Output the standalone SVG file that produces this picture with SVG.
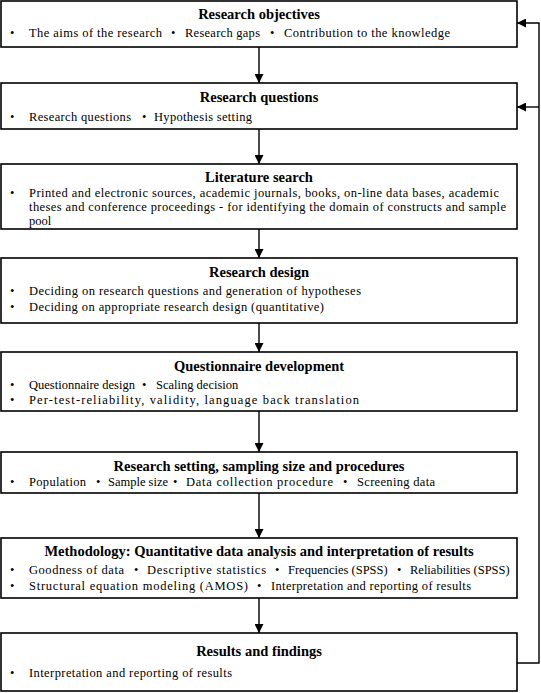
<svg xmlns="http://www.w3.org/2000/svg" width="541" height="693" viewBox="0 0 541 693" font-family="'Liberation Serif', 'DejaVu Serif', 'Noto Serif', Tinos, Times, serif">
<defs>
<marker id="ah" viewBox="0 0 10 10" refX="10" refY="5" markerWidth="9" markerHeight="9" markerUnits="userSpaceOnUse" orient="auto">
<path d="M0,0 L10,5 L0,10 Z" fill="#000"/>
</marker>
<style>
.box{fill:#fff;stroke:#000;stroke-width:1.6}
.t{font-weight:bold;font-size:14.5px;text-anchor:middle;fill:#000}
.b{font-size:12.5px;fill:#000}
.c{fill:none;stroke:#000;stroke-width:1.4}
</style>
</defs>
<rect width="541" height="693" fill="#fff"/>
<g id="connectors">
<line class="c" x1="259" y1="47" x2="259" y2="83" marker-end="url(#ah)"/>
<line class="c" x1="259" y1="129" x2="259" y2="164" marker-end="url(#ah)"/>
<line class="c" x1="259" y1="229" x2="259" y2="258" marker-end="url(#ah)"/>
<line class="c" x1="259" y1="323" x2="259" y2="352" marker-end="url(#ah)"/>
<line class="c" x1="259" y1="411" x2="259" y2="452" marker-end="url(#ah)"/>
<line class="c" x1="259" y1="493" x2="259" y2="538" marker-end="url(#ah)"/>
<line class="c" x1="259" y1="598" x2="259" y2="633" marker-end="url(#ah)"/>
<polyline class="c" points="517,663 539,663 539,23 517,23" marker-end="url(#ah)"/>
<line class="c" x1="539" y1="107" x2="517" y2="107" marker-end="url(#ah)"/>
</g>
<g id="n1">
<rect class="box" x="1" y="1" width="516" height="46"/>
<text class="t" x="259" y="19">Research objectives</text>
<text class="b" x="10" y="37">•</text>
<text class="b" x="29" y="37" textLength="133">The aims of the research</text>
<text class="b" x="171" y="37">•</text>
<text class="b" x="185" y="37" textLength="75">Research gaps</text>
<text class="b" x="270" y="37">•</text>
<text class="b" x="284" y="37" textLength="166">Contribution to the knowledge</text>
</g>
<g id="n2">
<rect class="box" x="1" y="83" width="516" height="46"/>
<text class="t" x="259" y="102">Research questions</text>
<text class="b" x="10" y="121">•</text>
<text class="b" x="29" y="121" textLength="102">Research questions</text>
<text class="b" x="142" y="121">•</text>
<text class="b" x="154" y="121" textLength="98">Hypothesis setting</text>
</g>
<g id="n3">
<rect class="box" x="1" y="164" width="516" height="65"/>
<text class="t" x="259" y="182">Literature search</text>
<text class="b" x="10" y="197">•</text>
<text class="b" x="29" y="197" textLength="470">Printed and electronic sources, academic journals, books, on-line data bases, academic</text>
<text class="b" x="29" y="211" textLength="477">theses and conference proceedings - for identifying the domain of constructs and sample</text>
<text class="b" x="29" y="225">pool</text>
</g>
<g id="n4">
<rect class="box" x="1" y="258" width="516" height="65"/>
<text class="t" x="259" y="277">Research design</text>
<text class="b" x="10" y="295">•</text>
<text class="b" x="29" y="295" textLength="332">Deciding on research questions and generation of hypotheses</text>
<text class="b" x="10" y="311">•</text>
<text class="b" x="29" y="311" textLength="295">Deciding on appropriate research design (quantitative)</text>
</g>
<g id="n5">
<rect class="box" x="1" y="352" width="516" height="59"/>
<text class="t" x="259" y="371">Questionnaire development</text>
<text class="b" x="10" y="389">•</text>
<text class="b" x="29" y="389">Questionnaire design</text>
<text class="b" x="142" y="389">•</text>
<text class="b" x="156" y="389">Scaling decision</text>
<text class="b" x="10" y="404">•</text>
<text class="b" x="29" y="404" textLength="330">Per-test-reliability, validity, language back translation</text>
</g>
<g id="n6">
<rect class="box" x="1" y="452" width="516" height="41"/>
<text class="t" x="259" y="471">Research setting, sampling size and procedures</text>
<text class="b" x="10" y="486">•</text>
<text class="b" x="29" y="486" textLength="57">Population</text>
<text class="b" x="96" y="486">•</text>
<text class="b" x="108" y="486">Sample size</text>
<text class="b" x="173" y="486">•</text>
<text class="b" x="186" y="486" textLength="147">Data collection procedure</text>
<text class="b" x="343" y="486">•</text>
<text class="b" x="357" y="486" textLength="78">Screening data</text>
</g>
<g id="n7">
<rect class="box" x="1" y="538" width="516" height="60"/>
<text class="t" x="259" y="556">Methodology: Quantitative data analysis and interpretation of results</text>
<text class="b" x="10" y="574">•</text>
<text class="b" x="29" y="574" textLength="95">Goodness of data</text>
<text class="b" x="134" y="574">•</text>
<text class="b" x="147" y="574" textLength="119">Descriptive statistics</text>
<text class="b" x="275" y="574">•</text>
<text class="b" x="288" y="574">Frequencies (SPSS)</text>
<text class="b" x="397" y="574">•</text>
<text class="b" x="410" y="574">Reliabilities (SPSS)</text>
<text class="b" x="10" y="590">•</text>
<text class="b" x="29" y="590" textLength="219">Structural equation modeling (AMOS)</text>
<text class="b" x="257" y="590">•</text>
<text class="b" x="271" y="590" textLength="200">Interpretation and reporting of results</text>
</g>
<g id="n8">
<rect class="box" x="1" y="633" width="516" height="58"/>
<text class="t" x="259" y="656">Results and findings</text>
<text class="b" x="10" y="677">•</text>
<text class="b" x="29" y="677" textLength="203">Interpretation and reporting of results</text>
</g>
</svg>
